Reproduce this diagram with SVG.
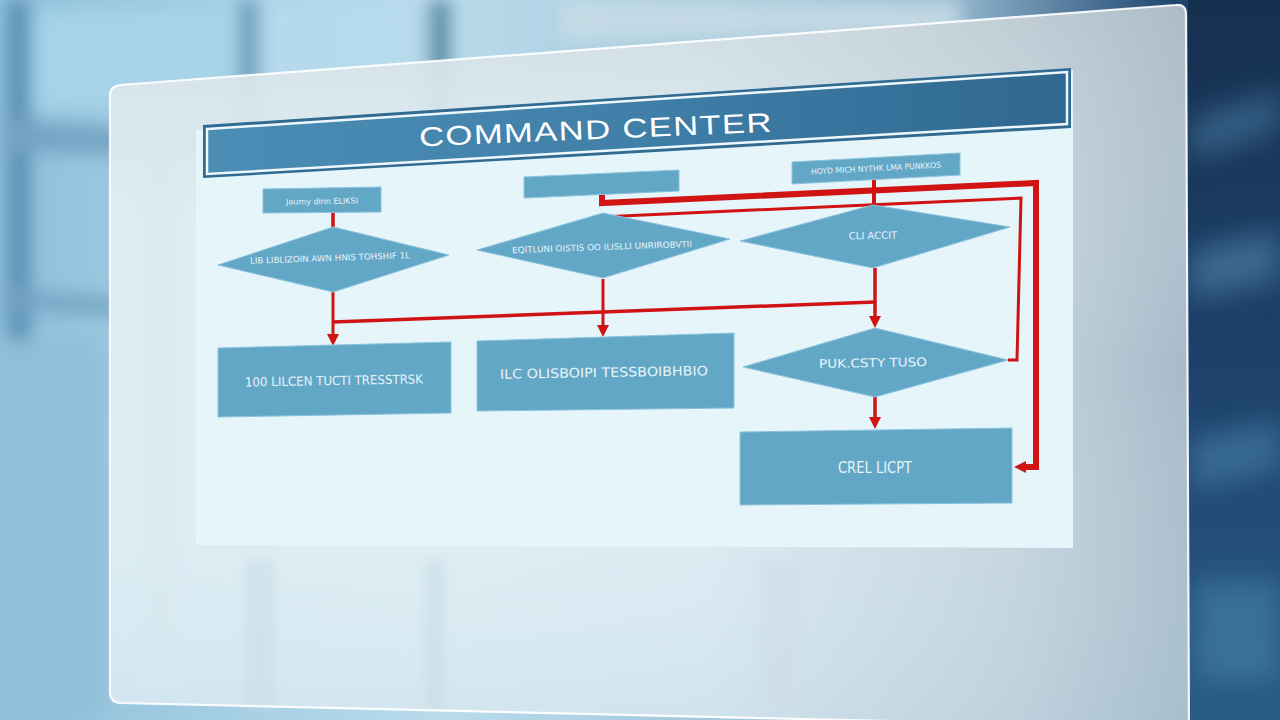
<svg xmlns="http://www.w3.org/2000/svg" width="1280" height="720" viewBox="0 0 1280 720">
  <defs>
    <linearGradient id="bg" x1="0" y1="0" x2="1" y2="0">
      <stop offset="0" stop-color="#8fc0da"/>
      <stop offset="0.35" stop-color="#b9dcec"/>
      <stop offset="0.75" stop-color="#8fb4cc"/>
      <stop offset="0.92" stop-color="#1e4570"/>
      <stop offset="1" stop-color="#1a3c64"/>
    </linearGradient>
    <linearGradient id="glass" x1="0" y1="0" x2="1" y2="0">
      <stop offset="0" stop-color="#e4f2f7" stop-opacity="0.9"/>
      <stop offset="0.55" stop-color="#e1eff5" stop-opacity="0.92"/>
      <stop offset="0.85" stop-color="#c6d6df" stop-opacity="0.95"/>
      <stop offset="1" stop-color="#adc1cd" stop-opacity="0.95"/>
    </linearGradient>
    <linearGradient id="glassV" x1="0" y1="0" x2="0" y2="1">
      <stop offset="0" stop-color="#b8bec4" stop-opacity="0.35"/>
      <stop offset="0.5" stop-color="#ffffff" stop-opacity="0"/>
      <stop offset="1" stop-color="#a9c8da" stop-opacity="0.25"/>
    </linearGradient>
    <linearGradient id="banner" x1="0" y1="0" x2="1" y2="0">
      <stop offset="0" stop-color="#4c8db6"/>
      <stop offset="0.5" stop-color="#3f7fa8"/>
      <stop offset="1" stop-color="#2f6890"/>
    </linearGradient>
    <linearGradient id="navy" x1="0" y1="0" x2="0" y2="1">
      <stop offset="0" stop-color="#15304f"/>
      <stop offset="0.5" stop-color="#1d416a"/>
      <stop offset="1" stop-color="#2a5b85"/>
    </linearGradient>
    <filter id="blur" x="-20%" y="-20%" width="140%" height="140%">
      <feGaussianBlur stdDeviation="9"/>
    </filter>
    <filter id="blur3" x="-50%" y="-50%" width="200%" height="200%">
      <feGaussianBlur stdDeviation="14"/>
    </filter>
    <filter id="blur2" x="-20%" y="-20%" width="140%" height="140%">
      <feGaussianBlur stdDeviation="5"/>
    </filter>
    <marker id="arr" viewBox="0 0 10 10" refX="0" refY="5" markerWidth="12" markerHeight="12" orient="auto" markerUnits="userSpaceOnUse">
      <path d="M0,0 L10,5 L0,10 Z" fill="#d01414"/>
    </marker>
    <style>
      .node { fill: #63a7c7; stroke: #8cc3dc; stroke-width: 1; }
      .lbl { font-family: "DejaVu Sans", "Liberation Sans", sans-serif; fill: #e6f3f9; text-anchor: middle; }
      .wire { fill: none; stroke: #d01414; stroke-linejoin: miter; }
    </style>
  </defs>

  <!-- background scene -->
  <rect x="0" y="0" width="1280" height="720" fill="url(#bg)"/>
  <g filter="url(#blur)" opacity="0.85">
    <rect x="8" y="0" width="22" height="720" fill="#4f86ad"/>
    <rect x="240" y="0" width="18" height="360" fill="#5f92b5"/>
    <rect x="428" y="0" width="22" height="120" fill="#507f9f"/>
    <polygon points="0,120 480,150 480,170 0,150" fill="#6f9fbf"/>
    <polygon points="0,290 120,298 120,316 0,308" fill="#6f9fbf"/>
    <rect x="35" y="10" width="195" height="100" fill="#a9d6eb"/>
    <rect x="265" y="0" width="160" height="120" fill="#b7dced"/>
    <rect x="560" y="0" width="400" height="40" fill="#c9dde6"/>
    <rect x="0" y="340" width="100" height="380" fill="#8ec0d8"/>
  </g>
  <rect x="1188" y="0" width="92" height="720" fill="url(#navy)"/>
  <g filter="url(#blur3)" opacity="0.55">
    <polygon points="1190,120 1280,90 1280,130 1190,160" fill="#4d7fa8"/>
    <polygon points="1190,250 1280,230 1280,280 1190,300" fill="#5a8db5"/>
    <polygon points="1190,440 1280,420 1280,470 1190,490" fill="#4c86ae"/>
    <rect x="1195" y="580" width="85" height="100" fill="#4a88b0"/>
  </g>

  <!-- glass panel -->
  <g id="panel">
    <path d="M110,96 Q110,86 120,85 L1176,5 Q1186,4 1186,14 L1189,730 L120,703 Q110,702 110,692 Z" fill="url(#glass)"/>
    <path d="M110,96 Q110,86 120,85 L1176,5 Q1186,4 1186,14 L1189,730 L120,703 Q110,702 110,692 Z" fill="url(#glassV)"/>
    <g filter="url(#blur2)" opacity="0.5">
      <rect x="245" y="560" width="30" height="150" fill="#c9dbe4"/>
      <rect x="425" y="560" width="20" height="150" fill="#c6d9e3"/>
      <rect x="760" y="560" width="40" height="150" fill="#cfdde5"/>
      <rect x="140" y="150" width="40" height="540" fill="#d8e9f0"/>
    </g>
    <path d="M1189,730 L1186,14 Q1186,4 1176,5 L120,85 Q110,86 110,96 L110,692 Q110,702 120,703 L1189,728" fill="none" stroke="#ffffff" stroke-width="2.2" stroke-opacity="0.9"/>
    <!-- inner diagram sheet -->
    <polygon points="196,130 1073,70 1073,548 196,545" fill="#e5f5fa"/>
  </g>

  <!-- title banner -->
  <g id="title">
    <polygon points="203,125 1071,68 1071,128 203,178" fill="#2f6b93"/>
    <polygon points="207,129 1067,72 1067,124 207,174" fill="url(#banner)" stroke="#eef7fb" stroke-width="2.5"/>
    <text x="596" y="139" transform="rotate(-2.4 596 131)" font-family="'Liberation Sans', 'DejaVu Sans', sans-serif" font-size="27" fill="#ffffff" text-anchor="middle" textLength="354" lengthAdjust="spacingAndGlyphs" letter-spacing="1">COMMAND CENTER</text>
  </g>

  <!-- connectors -->
  <g id="connectors">
    <line class="wire" x1="333" y1="213" x2="333" y2="227" stroke-width="3.5"/>
    <line class="wire" x1="333" y1="292" x2="333" y2="334" stroke-width="3" marker-end="url(#arr)"/>
    <line class="wire" x1="333" y1="322" x2="875" y2="302" stroke-width="3.5"/>
    <line class="wire" x1="603" y1="279" x2="603" y2="325" stroke-width="3" marker-end="url(#arr)"/>
    <line class="wire" x1="874" y1="175" x2="874" y2="206" stroke-width="4"/>
    <line class="wire" x1="875" y1="268" x2="875" y2="316" stroke-width="3.5" marker-end="url(#arr)"/>
    <line class="wire" x1="875" y1="397" x2="875" y2="417" stroke-width="3.5" marker-end="url(#arr)"/>
    <polyline class="wire" points="602,195 602,203 1036,183 1036,467 1026,467" stroke-width="6" marker-end="url(#arr)"/>
    <polyline class="wire" points="600,217 1021,198 1017,360 1008,360" stroke-width="3"/>
  </g>

  <!-- nodes -->
  <g id="box-a">
    <polygon class="node" points="263,189 381,187 381,212 263,213"/>
    <text class="lbl" x="322" y="204" font-size="8" transform="rotate(-1 322 201)">Jaumy dinn ELIKSI</text>
  </g>
  <g id="box-b">
    <polygon class="node" points="524,177 679,170 679,191 524,198"/>
  </g>
  <g id="box-c">
    <polygon class="node" points="792,162 960,153 960,175 792,184"/>
    <text class="lbl" x="876" y="171" font-size="8" transform="rotate(-3 876 168)" textLength="130" lengthAdjust="spacingAndGlyphs">HOYD MICH NYTHK LMA PUNKKOS</text>
  </g>
  <g id="decision-1">
    <polygon class="node" points="218,265 333,227 449,255 333,292"/>
    <text class="lbl" x="330" y="261" font-size="8.5" transform="rotate(-2 330 258)" textLength="160" lengthAdjust="spacingAndGlyphs">LIB LIBLIZOIN AWN HNIS TOHSHIF   1L</text>
  </g>
  <g id="decision-2">
    <polygon class="node" points="477,250 603,213 730,239 603,278"/>
    <text class="lbl" x="602" y="250" font-size="8.5" transform="rotate(-2 602 247)" textLength="180" lengthAdjust="spacingAndGlyphs">EQITLUNI OISTIS OO ILISLLI UNRIROBVTII</text>
  </g>
  <g id="decision-3">
    <polygon class="node" points="740,241 873,205 1010,227 873,268"/>
    <text class="lbl" x="873" y="239" font-size="10" transform="rotate(-1 873 236)">CLI ACCIT</text>
  </g>
  <g id="process-1">
    <polygon class="node" points="218,348 451,342 451,413 218,417"/>
    <text class="lbl" x="334" y="385" font-size="12.5" transform="rotate(-1 334 380)" textLength="178" lengthAdjust="spacingAndGlyphs">100 LILCEN TUCTI TRESSTRSK</text>
  </g>
  <g id="process-2">
    <polygon class="node" points="477,341 734,333 734,408 477,411"/>
    <text class="lbl" x="604" y="377" font-size="13" transform="rotate(-1 604 372)" textLength="208" lengthAdjust="spacingAndGlyphs">ILC OLISBOIPI TESSBOIBHBIO</text>
  </g>
  <g id="decision-4">
    <polygon class="node" points="743,367 875,328 1008,360 875,397"/>
    <text class="lbl" x="873" y="367" font-size="12" transform="rotate(-1 873 362)" textLength="108" lengthAdjust="spacingAndGlyphs">PUK.CSTY TUSO</text>
  </g>
  <g id="process-3">
    <polygon class="node" points="740,432 1012,428 1012,503 740,505"/>
    <text class="lbl" x="875" y="473" font-size="15" textLength="74" lengthAdjust="spacingAndGlyphs">CREL LICPT</text>
  </g>
</svg>
